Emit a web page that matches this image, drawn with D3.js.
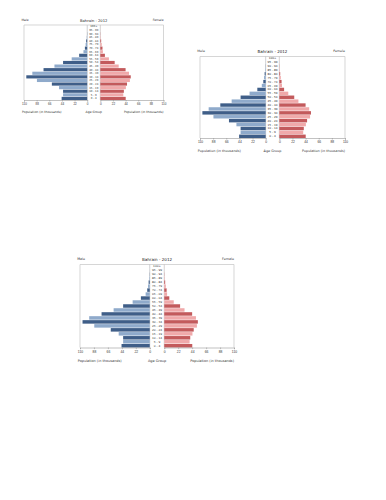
<!DOCTYPE html>
<html>
<head>
<meta charset="utf-8">
<script src="https://cdn.jsdelivr.net/npm/d3@7"></script>
<style>
body { margin: 0; background: #fff; }
svg { display: block; font-family: "DejaVu Sans", sans-serif; }
</style>
</head>
<body>
<div id="chart"></div>
<script>
var fw = 386;
var fh = 500;

var ages = ["0 - 4", "5 - 9", "10 - 14", "15 - 19", "20 - 24", "25 - 29", "30 - 34",
	"35 - 39", "40 - 44", "45 - 49", "50 - 54", "55 - 59", "60 - 64", "65 - 69",
	"70 - 74", "75 - 79", "80 - 84", "85 - 89", "90 - 94", "95 - 99", "100+"];

// thousands
var male = [44.5, 42, 42, 49, 61.5, 87.5, 106, 95.5, 76, 57, 42, 27, 14, 6.5,
	4, 2.7, 1.8, 0.8, 0.3, 0.1, 0.05];
var female = [44.2, 40, 41, 44.5, 46.5, 51.5, 53, 50, 44, 32, 25, 15, 8, 4.5,
	3.8, 2.5, 1.5, 0.7, 0.3, 0.1, 0.05];

var ticks = [0, 22, 44, 66, 88, 110];

// three copies of the same pyramid, at slightly different sizes
var copies = [
	{ x: 24, y: 25, w: 139.5, h: 75 },
	{ x: 200, y: 56.5, w: 145, h: 81.5 },
	{ x: 80, y: 264.5, w: 154, h: 83 }
];

var svg = d3.select("#chart")
	.append("svg")
	.attr("width", fw)
	.attr("height", fh);

copies.forEach(function(c) { pyramid(c); });

function pyramid(c) {
	var k = c.h / 75;
	var gap = c.w * 0.094;
	var pw = (c.w - gap) / 2;
	var g = svg.append("g").attr("transform", "translate(" + c.x + "," + c.y + ")");

	var xl = d3.scaleLinear().domain([0, 110]).range([pw, 0]);
	var xr = d3.scaleLinear().domain([0, 110]).range([pw + gap, c.w]);
	var y = d3.scaleBand().domain(ages.slice().reverse()).range([0, c.h]).paddingInner(0.12);

	// frame
	g.append("path")
		.attr("d", "M0," + c.h + "V0H" + c.w + "V" + c.h + "M" + pw + "," + c.h + "V0M" + (pw + gap) + "," + c.h + "V0")
		.attr("fill", "none")
		.attr("stroke", "#c4c4c4")
		.attr("stroke-width", 0.7);

	g.selectAll(".m")
		.data(male)
		.enter()
		.append("rect")
		.attr("x", function(d) { return xl(d); })
		.attr("y", function(d, i) { return y(ages[i]); })
		.attr("width", function(d) { return xl(0) - xl(d); })
		.attr("height", y.bandwidth())
		.attr("fill", function(d, i) { return i % 2 == 0 ? "#3f5e88" : "#8faacb"; });

	g.selectAll(".f")
		.data(female)
		.enter()
		.append("rect")
		.attr("x", xr(0))
		.attr("y", function(d, i) { return y(ages[i]); })
		.attr("width", function(d) { return xr(d) - xr(0); })
		.attr("height", y.bandwidth())
		.attr("fill", function(d, i) { return i % 2 == 0 ? "#c35a5c" : "#f0a9aa"; });

	g.selectAll(".age")
		.data(ages)
		.enter()
		.append("text")
		.attr("x", pw + gap / 2)
		.attr("y", function(d) { return y(d) + y.bandwidth() / 2; })
		.attr("dy", "0.35em")
		.attr("text-anchor", "middle")
		.attr("font-size", 2.6 * k)
		.attr("fill", "#333")
		.text(function(d) { return d; });

	var xA1 = d3.axisBottom(xl).tickValues(ticks).tickSize(1.5 * k).tickPadding(1 * k);
	var xA2 = d3.axisBottom(xr).tickValues(ticks).tickSize(1.5 * k).tickPadding(1 * k);

	[xA1, xA2].forEach(function(a) {
		var ax = g.append("g")
			.attr("transform", "translate(0," + c.h + ")")
			.call(a);
		ax.selectAll("path, line").attr("stroke", "#999").attr("stroke-width", 0.6);
		ax.selectAll("text").attr("font-size", 3 * k).attr("fill", "#333");
	});

	g.append("text")
		.attr("x", c.w / 2)
		.attr("y", -3.2 * k)
		.attr("text-anchor", "middle")
		.attr("font-size", 3.7 * k)
		.attr("fill", "#222")
		.text("Bahrain - 2012");

	g.append("text")
		.attr("x", -2.5 * k)
		.attr("y", -3.8 * k)
		.attr("font-size", 3 * k)
		.attr("fill", "#333")
		.text("Male");

	g.append("text")
		.attr("x", c.w)
		.attr("y", -3.8 * k)
		.attr("text-anchor", "end")
		.attr("font-size", 3 * k)
		.attr("fill", "#333")
		.text("Female");

	g.append("text")
		.attr("x", -2 * k)
		.attr("y", c.h + 13.3 * k)
		.attr("font-size", 3.1 * k)
		.attr("fill", "#333")
		.text("Population (in thousands)");

	g.append("text")
		.attr("x", pw + gap / 2)
		.attr("y", c.h + 13.3 * k)
		.attr("text-anchor", "middle")
		.attr("font-size", 3.1 * k)
		.attr("fill", "#333")
		.text("Age Group");

	g.append("text")
		.attr("x", c.w)
		.attr("y", c.h + 13.3 * k)
		.attr("text-anchor", "end")
		.attr("font-size", 3.1 * k)
		.attr("fill", "#333")
		.text("Population (in thousands)");
}
</script>
</body>
</html>
